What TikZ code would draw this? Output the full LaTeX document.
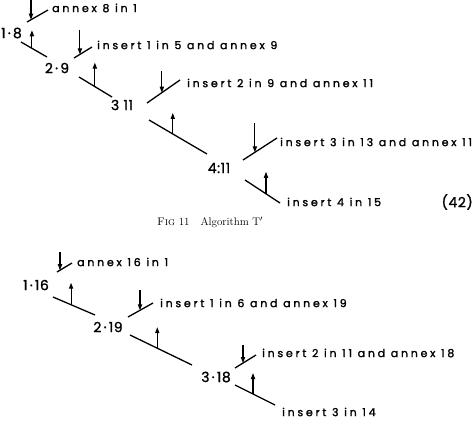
\documentclass[tikz,border=0pt]{standalone}
\usepackage{fontspec}
\newfontfamily\lblfont[FakeBold=1.6,LetterSpace=25]{Poppins}
\newfontfamily\valfont[FakeBold=1.2,LetterSpace=4]{Poppins}
\usetikzlibrary{calc,arrows.meta}
\newcommand{\md}{\kern2.2pt·\kern2.2pt}
\begin{document}
\begin{tikzpicture}[x=1pt,y=-1pt,
  lbl/.style={font=\lblfont\fontsize{11}{12}\selectfont,inner sep=0pt,anchor=west},
  val/.style={font=\valfont\fontsize{14}{16}\selectfont,inner sep=0pt},
  figcap/.style={font=\rmfamily\fontsize{11}{12}\selectfont,inner sep=0pt},
  seg/.style={line width=1.3pt},
  arr/.style={line width=1.1pt,-{Triangle[length=6pt,width=4.2pt]}}]
\useasboundingbox (0,0) rectangle (474,432);
% ---------- Fig 11 ----------
\node[val,anchor=east] (v1) at (22,33) {1\md8};
\node[val] (v2) at (57,68) {2\md9};
\node[val] (v3) at (122,105) {3 11};
\node[val] (v4) at (219,168) {4:11};
\node[lbl] (t1) at (52,8) {annex 8 in 1};
\node[lbl] (t2) at (97,45) {insert 1 in 5 and annex 9};
\node[lbl] (t3) at (187,83) {insert 2 in 9 and annex 11};
\node[lbl] (t4) at (280,142) {insert 3 in 13 and annex 11};
\node[lbl] (t5) at (287,202) {insert 4 in 15};
\node[val,anchor=east] (eq) at (473,202) {(42)};
\node[figcap] (c1) at (210,222) {\textsc{Fig} 11\quad Algorithm T$'$};
% segments
\coordinate (a1) at (27,22); \coordinate (b1) at (48,10);
\coordinate (a2) at (21,42); \coordinate (b2) at (47,57);
\coordinate (a3) at (74,58); \coordinate (b3) at (92,47);
\coordinate (a4) at (79,77); \coordinate (b4) at (112,97);
\coordinate (a5) at (147,103); \coordinate (b5) at (180,80);
\coordinate (a6) at (149,120); \coordinate (b6) at (207,154);
\coordinate (a7) at (243,160); \coordinate (b7) at (277,138);
\coordinate (a8) at (245,180); \coordinate (b8) at (280,203);
\foreach \i in {1,...,8} {\draw[seg] (a\i) -- (b\i);}
% arrows
\coordinate (p1) at ($(a1)!0.19!(b1)$);
\draw[arr] ($(p1)+(0,-20)$) -- (p1);
\coordinate (p2) at ($(a2)!0.42!(b2)$);
\draw[arr] (p2) -- ($(p2)+(0,-18)$);
\coordinate (p3) at ($(a3)!0.33!(b3)$);
\draw[arr] ($(p3)+(0,-24)$) -- (p3);
\coordinate (p4) at ($(a4)!0.48!(b4)$);
\draw[arr] (p4) -- ($(p4)+(0,-24)$);
\coordinate (p5) at ($(a5)!0.45!(b5)$);
\draw[arr] ($(p5)+(0,-22)$) -- (p5);
\coordinate (p6) at ($(a6)!0.41!(b6)$);
\draw[arr] (p6) -- ($(p6)+(0,-21)$);
\coordinate (p7) at ($(a7)!0.35!(b7)$);
\draw[arr] ($(p7)+(0,-29)$) -- (p7);
\coordinate (p8) at ($(a8)!0.6!(b8)$);
\draw[arr] (p8) -- ($(p8)+(0,-22)$);
% ---------- Fig 12 ----------
\node[val] (w1) at (36,285) {1\md16};
\node[val] (w2) at (108,327) {2\md19};
\node[val] (w3) at (216,377) {3\md18};
\node[lbl] (s1) at (77,262) {annex 16 in 1};
\node[lbl] (s2) at (160,303) {insert 1 in 6 and annex 19};
\node[lbl] (s3) at (262,353) {insert 2 in 11 and annex 18};
\node[lbl] (s4) at (282,412) {insert 3 in 14};
\coordinate (d1) at (57,272); \coordinate (e1) at (72,263);
\coordinate (d2) at (53,297); \coordinate (e2) at (95,315);
\coordinate (d3) at (128,317); \coordinate (e3) at (153,303);
\coordinate (d4) at (130,335); \coordinate (e4) at (192,365);
\coordinate (d5) at (235,368); \coordinate (e5) at (256,355);
\coordinate (d6) at (235,385); \coordinate (e6) at (275,405);
\foreach \i in {1,...,6} {\draw[seg] (d\i) -- (e\i);}
\coordinate (q1) at ($(d1)!0.2!(e1)$);
\draw[arr] ($(q1)+(0,-18)$) -- (q1);
\coordinate (q2) at ($(d2)!0.43!(e2)$);
\draw[arr] (q2) -- ($(q2)+(0,-22)$);
\coordinate (q3) at ($(d3)!0.48!(e3)$);
\draw[arr] ($(q3)+(0,-20)$) -- (q3);
\coordinate (q4) at ($(d4)!0.44!(e4)$);
\draw[arr] (q4) -- ($(q4)+(0,-21)$);
\coordinate (q5) at ($(d5)!0.38!(e5)$);
\draw[arr] ($(q5)+(0,-18)$) -- (q5);
\coordinate (q6) at ($(d6)!0.45!(e6)$);
\draw[arr] (q6) -- ($(q6)+(0,-21)$);
\end{tikzpicture}
\end{document}
